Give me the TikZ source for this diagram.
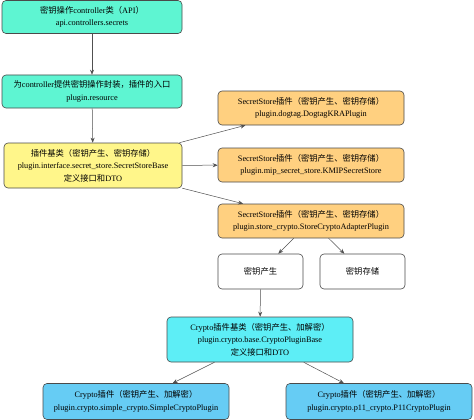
\documentclass[tikz,border=0pt]{standalone}
\usepackage{fontspec}
\setmainfont{Liberation Serif}
\newfontfamily\cjk{Noto Sans CJK SC}
\newcommand{\zh}[1]{{\cjk #1}}
\usetikzlibrary{arrows.meta}

\definecolor{apigreen}{HTML}{5EF5D2}
\definecolor{baseyellow}{HTML}{FFF68A}
\definecolor{storeorange}{HTML}{FFD080}
\definecolor{cryptocyan}{HTML}{5DEEF6}
\definecolor{pluginblue}{HTML}{66CCF4}
\definecolor{boxline}{HTML}{4A4A4A}
\definecolor{linkgrey}{HTML}{505050}

\begin{document}
\begin{tikzpicture}[x=1pt, y=-1pt,
  box/.style={rectangle, rounded corners=4pt, draw=boxline, line width=0.6pt,
    align=center, inner sep=0pt, font=\fontsize{8.3}{12.5}\selectfont},
  link/.style={-{Stealth[length=5pt,width=4pt]}, draw=linkgrey, line width=0.5pt}
]
\useasboundingbox (0,0) rectangle (474,420);

% controller layer
\node[box, fill=apigreen, minimum width=180pt, minimum height=33pt] (api) at (92,17)
  {\zh{密钥操作}controller\zh{类（}API\zh{）}\\api.controllers.secrets};
\node[box, fill=apigreen, minimum width=180pt, minimum height=33pt] (resource) at (92,91.5)
  {\zh{为}controller\zh{提供密钥操作封装，插件的入口}\\plugin.resource};
\node[box, fill=baseyellow, minimum width=178pt, minimum height=45pt] (base) at (93,165.5)
  {\zh{插件基类（密钥产生、密钥存储）}\\plugin.interface.secret\_store.SecretStoreBase\\\zh{定义接口和}DTO};

% secret store plugins
\node[box, fill=storeorange, minimum width=186pt, minimum height=34pt] (kra) at (311,108)
  {SecretStore\zh{插件（密钥产生、密钥存储）}\\plugin.dogtag.DogtagKRAPlugin};
\node[box, fill=storeorange, minimum width=186pt, minimum height=34pt] (kmip) at (311,165)
  {SecretStore\zh{插件（密钥产生、密钥存储）}\\plugin.mip\_secret\_store.KMIPSecretStore};
\node[box, fill=storeorange, minimum width=186pt, minimum height=34pt] (adapter) at (311,221)
  {SecretStore\zh{插件（密钥产生、密钥存储）}\\plugin.store\_crypto.StoreCryptoAdapterPlugin};

\node[box, fill=white, minimum width=85pt, minimum height=35pt] (gen) at (260.5,271.5) {\zh{密钥产生}};
\node[box, fill=white, minimum width=85pt, minimum height=35pt] (keep) at (362.5,271.5) {\zh{密钥存储}};

% crypto plugins
\node[box, fill=cryptocyan, minimum width=186pt, minimum height=45pt] (cbase) at (260,339.5)
  {Crypto\zh{插件基类（密钥产生、加解密）}\\plugin.crypto.base.CryptoPluginBase\\\zh{定义接口和}DTO};
\node[box, fill=pluginblue, minimum width=186pt, minimum height=36pt] (simple) at (136,401.5)
  {Crypto\zh{插件（密钥产生、加解密）}\\plugin.crypto.simple\_crypto.SimpleCryptoPlugin};
\node[box, fill=pluginblue, minimum width=186pt, minimum height=36pt] (p11) at (379,401.5)
  {Crypto\zh{插件（密钥产生、加解密）}\\plugin.crypto.p11\_crypto.P11CryptoPlugin};

\draw[link] (api) -- (resource);
\draw[link] (resource) -- (base);
\draw[link] (base) -- (kra);
\draw[link] (base) -- (kmip);
\draw[link] (base) -- (adapter);
\draw[link] (adapter) -- (gen);
\draw[link] (adapter) -- (keep);
\draw[link] (gen) -- (cbase);
\draw[link] (cbase) -- (simple);
\draw[link] (cbase) -- (p11);
\end{tikzpicture}
\end{document}
